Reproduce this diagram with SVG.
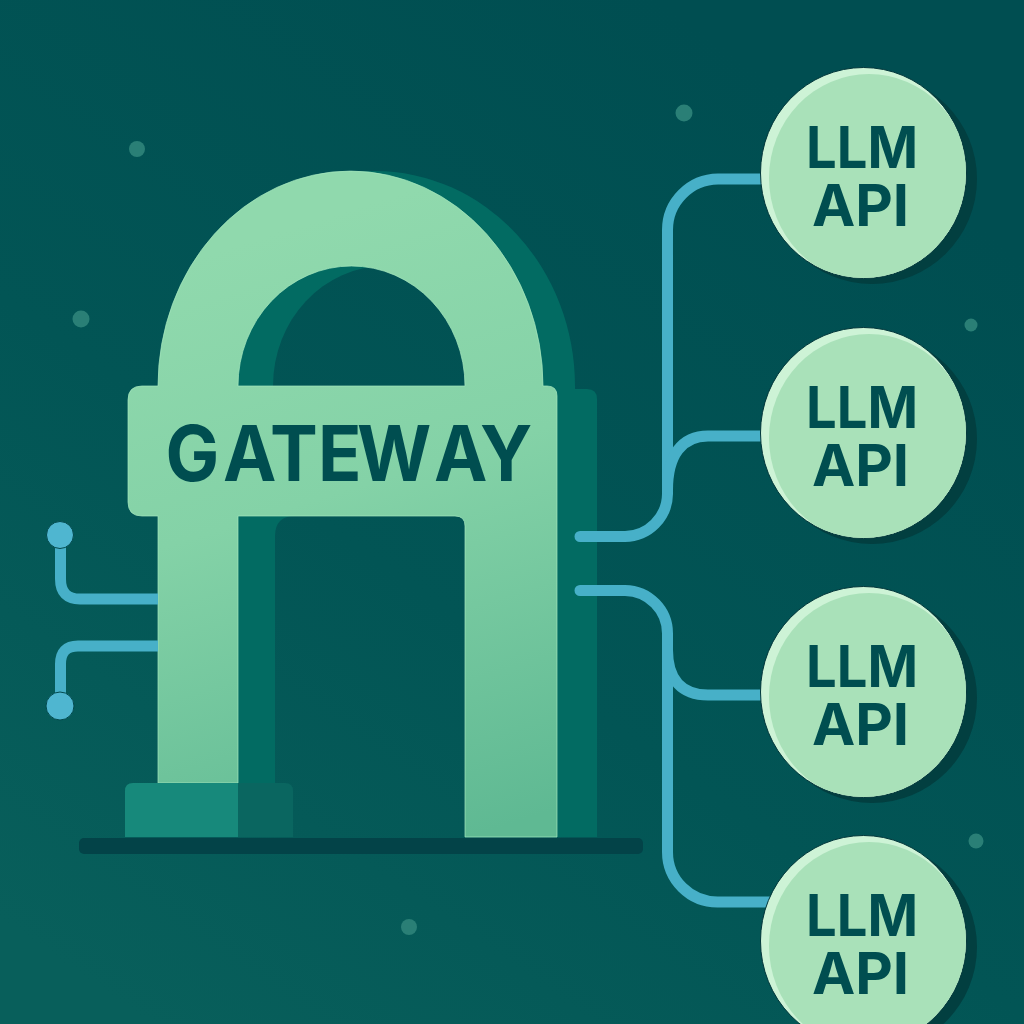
<svg xmlns="http://www.w3.org/2000/svg" width="1024" height="1024" viewBox="0 0 1024 1024">
<defs>
<linearGradient id="bg" gradientUnits="userSpaceOnUse" x1="800" y1="100" x2="150" y2="1024"><stop offset="0" stop-color="#004e51"/><stop offset="0.55" stop-color="#025555"/><stop offset="1" stop-color="#085f5b"/></linearGradient>
<linearGradient id="arch" gradientUnits="userSpaceOnUse" x1="285" y1="230" x2="475" y2="835"><stop offset="0" stop-color="#90d9ad"/><stop offset="0.42" stop-color="#84d2a7"/><stop offset="1" stop-color="#5fb993"/></linearGradient>
<clipPath id="face"><ellipse cx="863.500" cy="173" rx="102.500" ry="105"/></clipPath>
<g id="disc-shape">
<ellipse cx="872" cy="179" rx="105" ry="105" fill="#023f40"/>
<ellipse cx="863.500" cy="173" rx="103" ry="105.500" fill="#cdf3d6" stroke="#02363a" stroke-width="1"/>
<ellipse cx="869" cy="178" rx="100" ry="104" fill="#a9e1b9" clip-path="url(#face)"/>
</g>
</defs>
<style>
.dot{fill:#2a7f76}
.wire{fill:none;stroke:#47b0c8;stroke-width:11;stroke-linecap:round}
.butt{stroke-linecap:butt}
.end{fill:#4fb6d0;stroke:#034a4e;stroke-width:1}
.shade{fill:#026b62}
.hole{fill:url(#bg)}
.lit{fill:url(#arch);fill-rule:evenodd;stroke:#a6e8bf;stroke-width:1;stroke-opacity:.7}
.t{font-family:Inter,"Liberation Sans",Arial,sans-serif;font-weight:700;fill:#004e50}
.llm{font-size:58px;text-anchor:middle}
</style>
<rect id="background" width="1024" height="1024" fill="url(#bg)"/>
<g id="dots">
<circle class="dot" cx="137" cy="149" r="8"/><circle class="dot" cx="81" cy="319" r="8.500"/><circle class="dot" cx="684" cy="113" r="8.500"/><circle class="dot" cx="971" cy="325" r="6.500"/><circle class="dot" cx="976" cy="841" r="7.500"/><circle class="dot" cx="409" cy="927" r="8"/>
</g>
<g id="ground"><rect x="79" y="838" width="564" height="16" rx="5" fill="#034348"/></g>
<g id="gateway">
<path class="shade" d="M238,386 V240 Q290,171 375,171 A200,215 0 0 1 575,386 V389 H587 Q597,389 597,399 V837 H238 Z"/>
<path class="hole" d="M273,386 A112,120 0 0 1 497,386 Z"/>
<path class="hole" d="M275,837 V536 Q275,516 295,516 H465 V837 Z"/>
<path class="lit" d="M158,386 A192.500,215 0 0 1 543,386 H547 Q557,386 557,396 V837 H465 V526 Q465,516 455,516 H238 V783 H158 V516 H142 Q128,516 128,502 V400 Q128,386 142,386 Z M238,386 A113.500,120 0 0 1 465,386 Z"/>
<path d="M125,837 V791 Q125,783 133,783 H238 V837 Z" fill="#17897b"/>
<path d="M238,837 V783 H285 Q293,783 293,791 V837 Z" fill="#0a6660"/>
<text class="t" transform="scale(.93,1)" x="178 239.800 290.300 341.900 383.900 466.700 516.100" y="481" font-size="77">GATEWAY</text>
</g>
<g id="connectors">
<path class="wire butt" d="M158,599 H80 Q60.500,599 60.500,579 V535"/>
<path class="wire butt" d="M158,646 H78 Q60.500,646 60.500,664 V706"/>
<circle class="end" cx="60" cy="535" r="13.500"/>
<circle class="end" cx="60" cy="706" r="14"/>
<path class="wire" d="M580,536.500 H625 A43,43 0 0 0 667.500,494 V230 A51,51 0 0 1 718,179 H765"/>
<path class="wire" d="M667.500,490 C667.500,455 682,436 708,436 H765"/>
<path class="wire" d="M580,590.500 H625 A43,43 0 0 1 667.500,634 V852 A50,50 0 0 0 718,902 H770"/>
<path class="wire" d="M667.500,650 C667.500,680 682,695 708,695 H765"/>
</g>
<g id="llm-1"><use href="#disc-shape"/><text class="t llm"><tspan x="862" y="168" textLength="112" lengthAdjust="spacingAndGlyphs">LLM</tspan><tspan x="860.500" y="226">API</tspan></text></g>
<g id="llm-2" transform="translate(0,260)"><use href="#disc-shape"/><text class="t llm"><tspan x="862" y="168" textLength="112" lengthAdjust="spacingAndGlyphs">LLM</tspan><tspan x="860.500" y="226">API</tspan></text></g>
<g id="llm-3" transform="translate(0,519)"><use href="#disc-shape"/><text class="t llm"><tspan x="862" y="168" textLength="112" lengthAdjust="spacingAndGlyphs">LLM</tspan><tspan x="860.500" y="226">API</tspan></text></g>
<g id="llm-4" transform="translate(0,768)"><use href="#disc-shape"/><text class="t llm"><tspan x="862" y="168" textLength="112" lengthAdjust="spacingAndGlyphs">LLM</tspan><tspan x="860.500" y="226">API</tspan></text></g>
</svg>
